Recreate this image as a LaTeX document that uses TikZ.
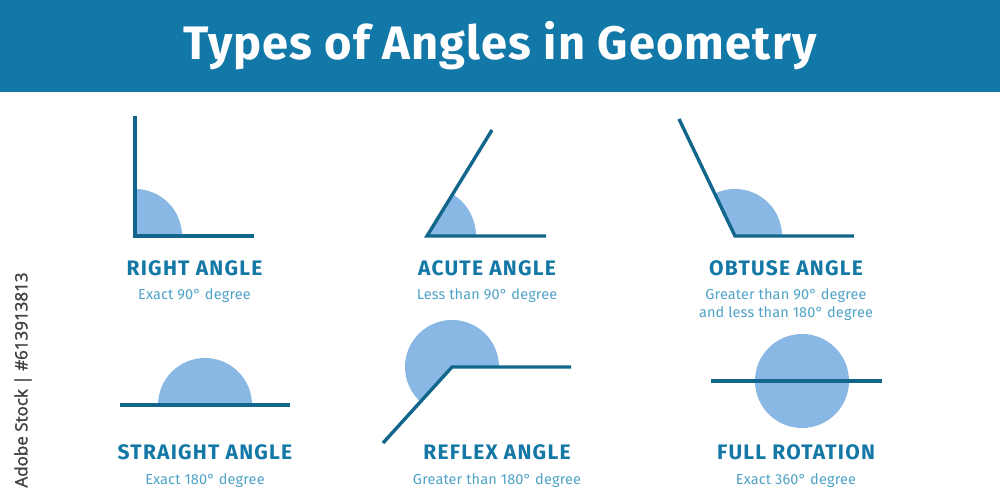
\documentclass[tikz,border=0pt]{standalone}
\usepackage{fontspec}
\setmainfont{Fira Sans}
\newfontfamily\creditfont[FakeBold=1.6]{Open Sans}
\definecolor{band}{HTML}{1278A8}
\definecolor{ray}{HTML}{12668C}
\definecolor{sector}{HTML}{8AB8E4}
\definecolor{head}{HTML}{1478A6}
\definecolor{subt}{HTML}{4FA3C7}
\tikzset{
  rayline/.style={draw=ray,line width=3.4pt,line join=miter},
  headlabel/.style={font=\fontsize{21}{24}\selectfont\bfseries\addfontfeature{LetterSpace=5.8},text=head,inner sep=0pt,anchor=center},
  sublabel/.style={font=\fontsize{14.5}{18}\selectfont\addfontfeature{LetterSpace=1},text=subt,inner sep=0pt,anchor=center,align=center},
}
\begin{document}
\begin{tikzpicture}[x=1pt,y=1pt]
\useasboundingbox (0,0) rectangle (1000,502);
\fill[white] (0,0) rectangle (1000,502);
\fill[band] (0,410) rectangle (1000,502);
\node[inner sep=0pt,text=white,font=\fontsize{47}{56}\selectfont\bfseries\addfontfeature{LetterSpace=2.5}] (title) at (500,456.5) {Types of Angles in Geometry};
% right
\coordinate (ra) at (135,266);
\fill[sector] (ra) -- ++(47,0) arc[start angle=0,end angle=90,radius=47] -- cycle;
\draw[rayline] (135,386) -- (ra) -- (254,266);
\node[headlabel] (rh) at (194.5,233.5) {RIGHT ANGLE};
\node[sublabel] (rs) at (194.5,206.5) {Exact 90° degree};
% acute
\coordinate (ac) at (427,266);
\fill[sector] (ac) -- ++(49,0) arc[start angle=0,end angle=58.5,radius=49] -- cycle;
\draw[rayline] (492,372) -- (ac) -- (546,266);
\node[headlabel] (ch) at (487,233.5) {ACUTE ANGLE};
\node[sublabel] (cs) at (487,206.5) {Less than 90° degree};
% obtuse
\coordinate (ob) at (735,266);
\fill[sector] (ob) -- ++(47,0) arc[start angle=0,end angle=115.6,radius=47] -- cycle;
\draw[rayline] (679,383) -- (ob) -- (854,266);
\node[headlabel] (oh) at (786,233.5) {OBTUSE ANGLE};
\node[sublabel] (os) at (786,197) {Greater than 90° degree\\and less than 180° degree};
% straight
\coordinate (st) at (205,97);
\fill[sector] (st) ++(47,0) arc[start angle=0,end angle=180,radius=47] -- cycle;
\draw[rayline] (120,97) -- (290,97);
\node[headlabel] (sh) at (205,49.5) {STRAIGHT ANGLE};
\node[sublabel] (ss) at (205,21.5) {Exact 180° degree};
% reflex
\coordinate (re) at (452,135);
\fill[sector] (re) -- ++(47,0) arc[start angle=0,end angle=228,radius=47] -- cycle;
\draw[rayline] (571,135) -- (re) -- (383,59);
\node[headlabel] (xh) at (497,49.5) {REFLEX ANGLE};
\node[sublabel] (xs) at (497,21.5) {Greater than 180° degree};
% full
\coordinate (fu) at (802,121);
\fill[sector] (fu) circle[radius=47];
\draw[rayline] (711,121) -- (882,121);
\node[headlabel] (fh) at (796,49.5) {FULL ROTATION};
\node[sublabel] (fs) at (796,21.5) {Exact 360° degree};
% credit
\node[rotate=90,inner sep=0pt,text=black!75,font=\fontsize{17}{20}\selectfont\creditfont] (credit) at (23,122) {Adobe Stock | \#613913813};
\end{tikzpicture}
\end{document}
